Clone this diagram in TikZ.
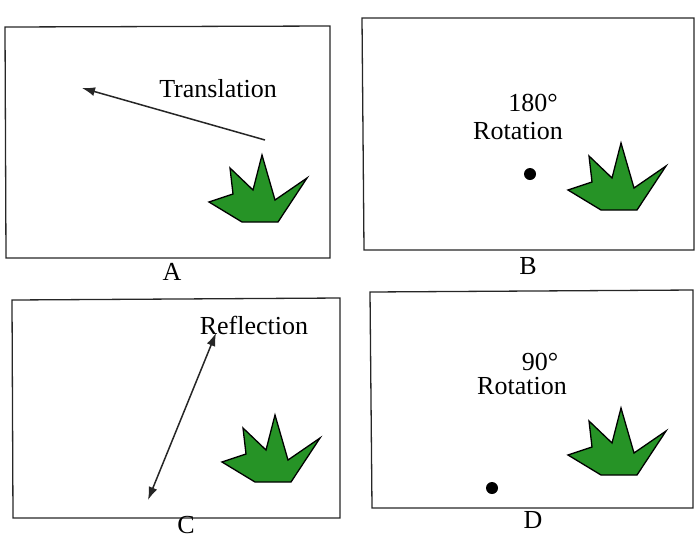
\documentclass[tikz,border=0pt]{standalone}
\usepackage{fontspec}
\setmainfont{Liberation Serif}
\usetikzlibrary{arrows.meta}
\begin{document}
\begin{tikzpicture}[x=1pt,y=-1pt,
  frame/.style={draw=black!85,line width=1.3pt},
  lbl/.style={font=\fontsize{26}{28}\selectfont,inner sep=0pt},
  arr/.style={draw=black!85,line width=1.5pt,-{Latex[length=13pt,width=9pt]}},
  leaf/.style={fill=green!50!black!85,draw=black,line width=1.3pt,line join=miter}]
\useasboundingbox (0,0) rectangle (700,550);
\tikzset{crown/.pic={\path[leaf] (0,0)--(24,-8)--(21,-34)--(44,-12)--(53,-47)--(66,-2)--(98,-24)--(69,20)--(33,20)--cycle;}}
% boxes
\draw[frame] (5,27) -- (330,26) -- (330,258) -- (6,258) -- cycle;
\draw[frame] (362,18) -- (694,18) -- (694,250) -- (364,250) -- cycle;
\draw[frame] (12,300) -- (340,298) -- (340,518) -- (13,518) -- cycle;
\draw[frame] (370,292) -- (693,290) -- (693,508) -- (372,508) -- cycle;
% labels
\node[lbl] (la) at (172,272) {A};
\node[lbl] (lb) at (528,266) {B};
\node[lbl] (lc) at (186,525) {C};
\node[lbl] (ld) at (533,520) {D};
% A
\node[lbl] (tr) at (218,89) {Translation};
\coordinate (a1) at (265,140); \coordinate (a2) at (82,88);
\draw[arr] (a1) -- (a2);
\pic at (209,202) {crown};
% B
\node[lbl] (b1) at (533,103) {180°};
\node[lbl] (b2) at (518,131) {Rotation};
\fill (530,174) circle (6);
\pic at (568,190) {crown};
% C
\node[lbl] (rf) at (254,325) {Reflection};
\coordinate (c1) at (216,333); \coordinate (c2) at (148,500);
\draw[arr,{Latex[length=13pt,width=9pt]}-{Latex[length=13pt,width=9pt]}] (c1) -- (c2);
\pic at (222,462) {crown};
% D
\node[lbl] (d1) at (540,362) {90°};
\node[lbl] (d2) at (522,386) {Rotation};
\fill (492,488) circle (6);
\pic at (568,455) {crown};
\end{tikzpicture}
\end{document}
